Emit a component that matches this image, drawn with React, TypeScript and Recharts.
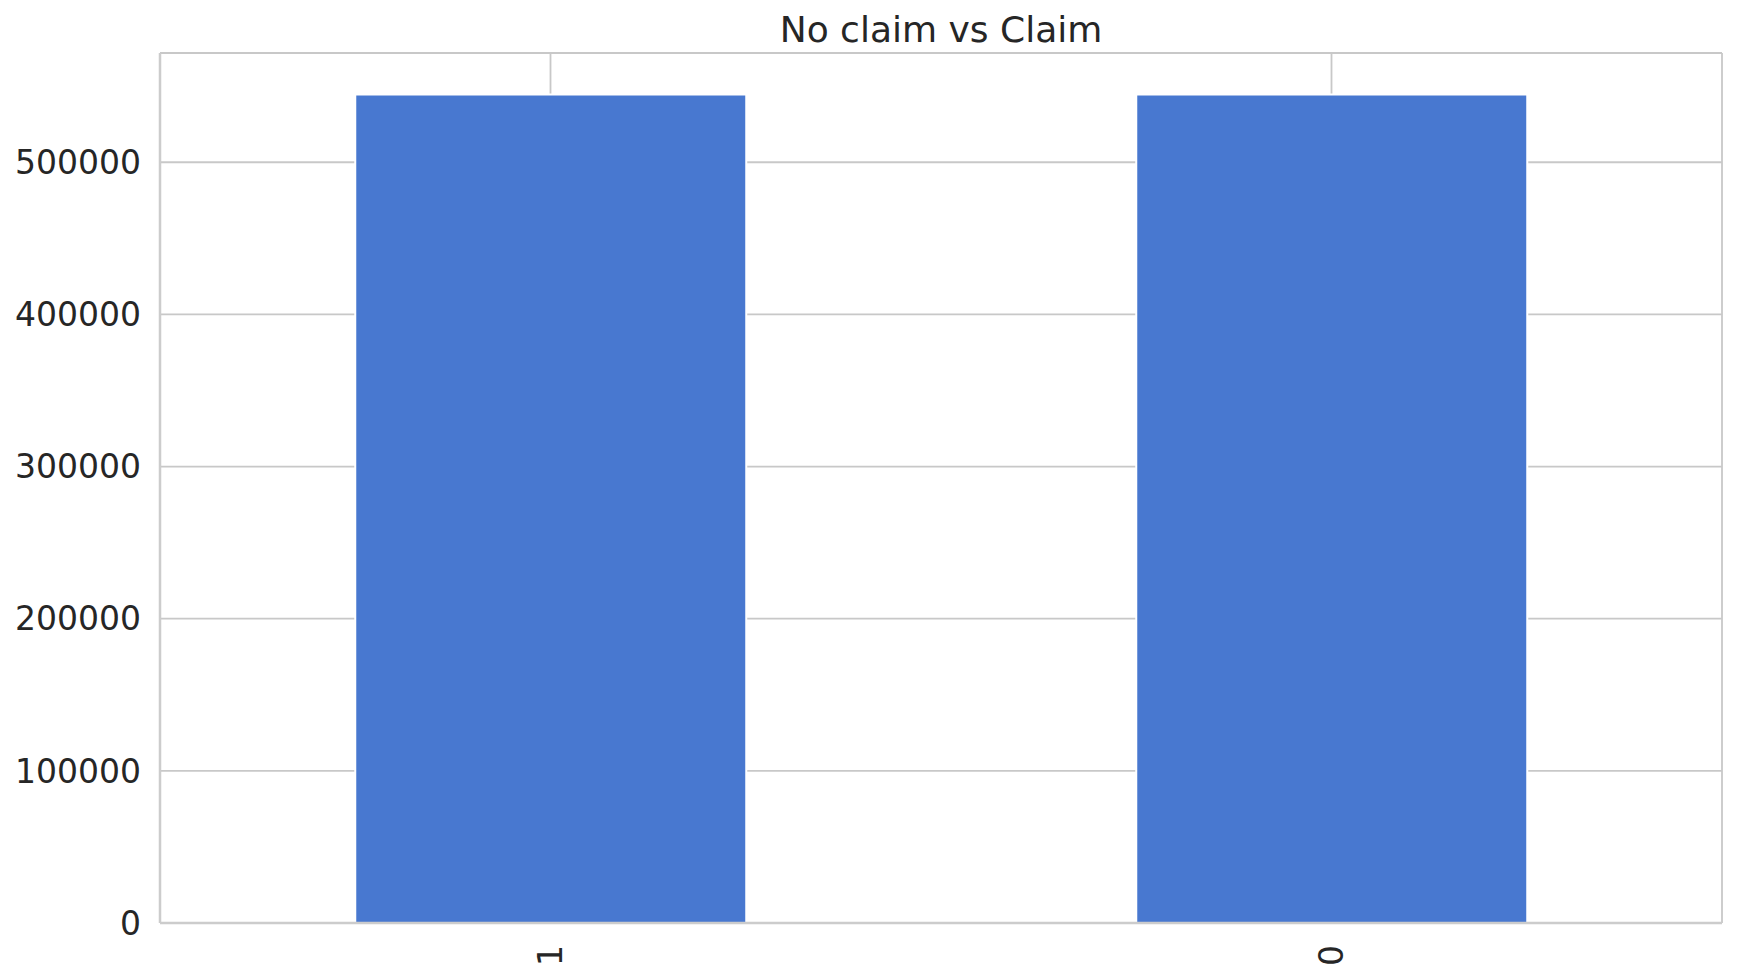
import React from "react";
import { BarChart, Bar, XAxis, YAxis, CartesianGrid } from "recharts";

const categories: string[] = ["1", "0"];
const counts: number[] = [544600, 544600];
const yTicks: number[] = [0, 100000, 200000, 300000, 400000, 500000];
const yMax = 571800;
const title = "No claim vs Claim";

const data = categories.map((c, i) => ({ label: c, count: counts[i] }));

const FONT = "'DejaVu Sans', sans-serif";
const TEXT = "#262626";
const GRID = "#cccccc";

const RotatedTick = (props: any) => {
  const { x, y, payload } = props;
  return (
    <text
      x={x}
      y={y + 22}
      transform={`rotate(-90, ${x}, ${y + 22})`}
      textAnchor="end"
      dy="0.355em"
      fill={TEXT}
      fontSize={33}
      fontFamily={FONT}
    >
      {payload.value}
    </text>
  );
};

export default function App() {
  return (
    <div
      style={{
        position: "absolute",
        left: 0,
        top: 0,
        width: 1742,
        height: 977,
        background: "#ffffff",
        overflow: "hidden",
      }}
    >
      <div
        style={{
          position: "absolute",
          left: 160,
          width: 1562,
          top: 12,
          textAlign: "center",
          fontFamily: FONT,
          fontSize: 36,
          lineHeight: "36px",
          color: TEXT,
          whiteSpace: "nowrap",
        }}
      >
        {title}
      </div>
      <BarChart
        width={1742}
        height={977}
        data={data}
        margin={{ top: 53, right: 20, bottom: 0, left: 0 }}
        barCategoryGap="25%"
      >
        <CartesianGrid stroke="#c8c8c8" strokeWidth={1.8} vertical={true} horizontal={true} />
        <XAxis
          dataKey="label"
          height={54}
          tickLine={false}
          tickSize={0}
          tickMargin={0}
          axisLine={{ stroke: GRID, strokeWidth: 2.5 }}
          tick={<RotatedTick />}
          interval={0}
        />
        <XAxis
          xAxisId="top"
          orientation="top"
          dataKey="label"
          height={0}
          tick={false}
          tickLine={false}
          axisLine={{ stroke: GRID, strokeWidth: 2.5 }}
        />
        <YAxis
          width={160}
          domain={[0, yMax]}
          ticks={yTicks}
          allowDataOverflow
          tickLine={false}
          tickSize={0}
          tickMargin={19}
          axisLine={{ stroke: GRID, strokeWidth: 2.5 }}
          tick={{ fill: TEXT, fontSize: 33, fontFamily: FONT }}
        />
        <YAxis
          yAxisId="right"
          orientation="right"
          width={0}
          domain={[0, yMax]}
          tick={false}
          tickLine={false}
          axisLine={{ stroke: GRID, strokeWidth: 2.5 }}
        />
        <Bar
          dataKey="count"
          fill="#4878d0"
          stroke="#ffffff"
          strokeWidth={2}
          isAnimationActive={false}
        />
      </BarChart>
    </div>
  );
}
